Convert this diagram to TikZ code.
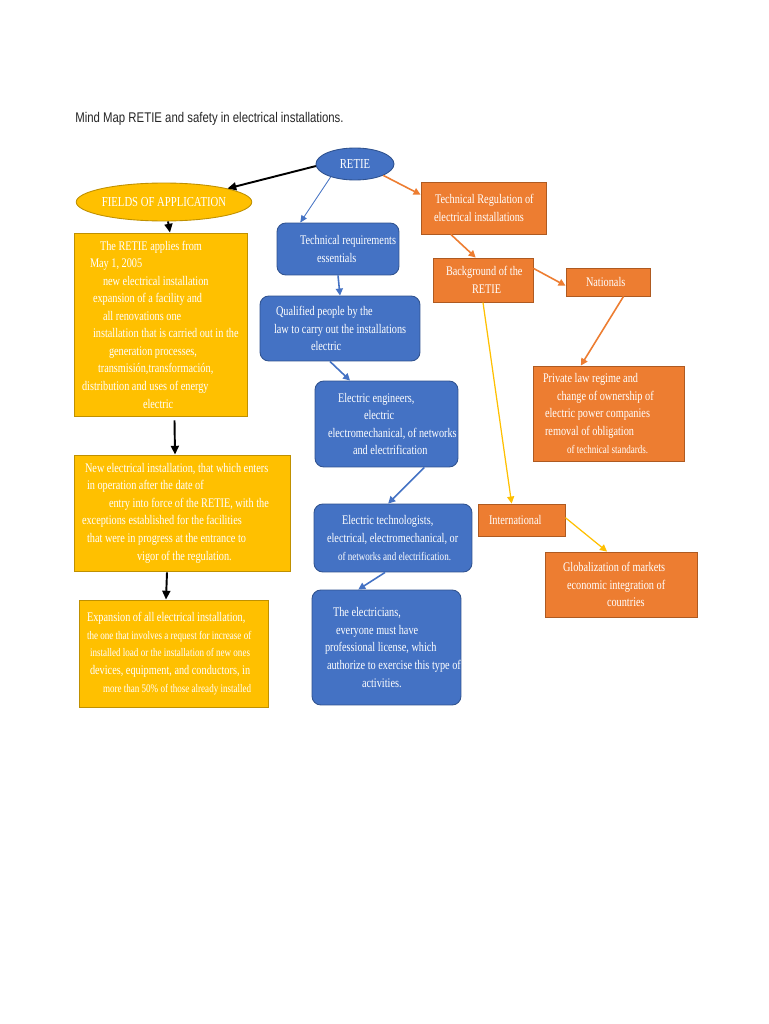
\documentclass[tikz,border=0pt]{standalone}
\usepackage{fontspec}
\usepackage{xcolor}
\usepackage{tikz}
\usetikzlibrary{shapes.geometric, arrows.meta, calc}
\newfontfamily\boxfont[FakeStretch=0.78]{Liberation Serif}
\newfontfamily\titlefont[FakeStretch=0.81]{Liberation Sans}
\definecolor{retieblue}{RGB}{68, 114, 196}
\definecolor{retiebluedark}{RGB}{47, 82, 143}
\definecolor{fieldgold}{RGB}{255, 192, 0}
\definecolor{fieldgolddark}{RGB}{191, 144, 0}
\definecolor{techorange}{RGB}{237, 125, 49}
\definecolor{techorangedark}{RGB}{174, 90, 33}
\setlength{\parindent}{0pt}
\newcommand{\bline}[2]{\hspace*{#1}\mbox{\spaceskip=0pt\xspaceskip=0pt #2}}

\begin{document}
\begin{tikzpicture}[
    x=0.02cm, y=-0.02cm,
    box/.style={
        rectangle,
        inner sep=0pt,
        align=left,
        text=white,
        line width=0.5pt,
        font=\boxfont\fontsize{7.5}{10}\selectfont
    },
    goldbox/.style={box, fill=fieldgold, draw=fieldgolddark},
    bluebox/.style={box, fill=retieblue, draw=retiebluedark, rounded corners=5pt},
    orangebox/.style={box, fill=techorange, draw=techorangedark},
    bubble/.style={
        ellipse,
        inner sep=0pt,
        align=center,
        text=white,
        line width=0.5pt,
        font=\boxfont\fontsize{7.8}{10}\selectfont
    },
    blackarrow/.style={-{Triangle[length=5pt, width=4.5pt]}, line width=1.1pt, black},
    bluearrow/.style={-{Triangle[length=4pt, width=4pt]}, line width=0.9pt, retieblue},
    thinbluearrow/.style={-{Triangle[length=4pt, width=3.5pt]}, line width=0.5pt, retieblue},
    orangearrow/.style={-{Triangle[length=4pt, width=4pt]}, line width=0.9pt, techorange},
    goldarrow/.style={-{Triangle[length=4pt, width=4pt]}, line width=0.7pt, fieldgold}
]
    \fill[white] (0,0) rectangle (768,1024);
    \useasboundingbox (0,0) rectangle (768,1024);

    % Title
    \node[anchor=west, inner sep=0pt, text=black!85, font=\titlefont\fontsize{8}{10}\selectfont] (title) at (75,119)
        {Mind Map RETIE and safety in electrical installations.};

    % Central ideas
    \node[bubble, fill=retieblue, draw=retiebluedark, minimum width=1.56cm, minimum height=0.64cm] (retie) at (355,164) {RETIE};
    \node[bubble, fill=fieldgold, draw=fieldgolddark, minimum width=3.5cm, minimum height=0.76cm] (fields) at (164,202) {FIELDS OF APPLICATION};

    % Fields of application
    \node[goldbox, text width=3.46cm, minimum height=3.66cm] (applies) at (160.5,324.5) {
        \bline{0.52cm}{The RETIE applies from}\\
        \bline{0.32cm}{May 1, 2005}\\
        \bline{0.58cm}{new electrical installation}\\
        \bline{0.38cm}{expansion of a facility and}\\
        \bline{0.58cm}{all renovations one}\\
        \bline{0.38cm}{installation that is carried out in the}\\
        \bline{0.70cm}{generation processes,}\\
        \bline{0.48cm}{transmisión,transformación,}\\
        \bline{0.16cm}{distribution and uses of energy}\\
        \bline{1.38cm}{electric}
    };

    \node[goldbox, text width=4.32cm, minimum height=2.32cm] (newinst) at (182,513) {
        \bline{0.22cm}{New electrical installation, that which enters}\\
        \bline{0.26cm}{in operation after the date of}\\
        \bline{0.70cm}{entry into force of the RETIE, with the}\\
        \bline{0.16cm}{exceptions established for the facilities}\\
        \bline{0.26cm}{that were in progress at the entrance to}\\
        \bline{1.26cm}{vigor of the regulation.}
    };

    \node[goldbox, text width=3.78cm, minimum height=2.14cm] (expansion) at (173.5,653.5) {
        \bline{0.16cm}{Expansion of all electrical installation,}\\
        \bline{0.16cm}{\fontsize{6.6}{10}\selectfont the one that involves a request for increase of}\\
        \bline{0.22cm}{\fontsize{6.6}{10}\selectfont installed load or the installation of new ones}\\
        \bline{0.22cm}{devices, equipment, and conductors, in}\\
        \bline{0.48cm}{\fontsize{6.6}{10}\selectfont more than 50\% of those already installed}
    };

    % Technical requirements
    \node[bluebox, text width=2.44cm, minimum height=1.04cm] (techreq) at (338,249) {
        \bline{0.46cm}{Technical requirements}\\
        \bline{0.80cm}{essentials}
    };

    \node[bluebox, text width=3.2cm, minimum height=1.3cm] (qualified) at (340,328.5) {
        \bline{0.32cm}{Qualified people by the}\\
        \bline{0.28cm}{law to carry out the installations}\\
        \bline{1.02cm}{electric}
    };

    \node[bluebox, text width=2.86cm, minimum height=1.72cm] (engineers) at (386.5,424) {
        \bline{0.46cm}{Electric engineers,}\\
        \bline{0.98cm}{electric}\\
        \bline{0.26cm}{electromechanical, of networks}\\
        \bline{0.76cm}{and electrification}
    };

    \node[bluebox, text width=3.16cm, minimum height=1.36cm] (technologists) at (393,538) {
        \bline{0.56cm}{Electric technologists,}\\
        \bline{0.26cm}{electrical, electromechanical, or}\\
        \bline{0.48cm}{\fontsize{6.6}{10}\selectfont of networks and electrification.}
    };

    \node[bluebox, text width=2.98cm, minimum height=2.3cm] (electricians) at (386.5,647.5) {
        \bline{0.42cm}{The electricians,}\\
        \bline{0.48cm}{everyone must have}\\
        \bline{0.26cm}{professional license, which}\\
        \bline{0.30cm}{authorize to exercise this type of}\\
        \bline{1.00cm}{activities.}
    };

    % Technical regulation
    \node[orangebox, text width=2.5cm, minimum height=1.04cm] (regulation) at (483.5,208) {
        \bline{0.28cm}{Technical Regulation of}\\
        \bline{0.26cm}{electrical installations}
    };

    \node[orangebox, text width=2.0cm, minimum height=0.88cm] (background) at (483,280) {
        \bline{0.26cm}{Background of the}\\
        \bline{0.78cm}{RETIE}
    };

    \node[orangebox, text width=1.68cm, minimum height=0.56cm] (nationals) at (608,282) {
        \bline{0.40cm}{Nationals}
    };

    \node[orangebox, text width=3.02cm, minimum height=1.9cm] (privatelaw) at (608.5,413.5) {
        \bline{0.20cm}{Private law regime and}\\
        \bline{0.48cm}{change of ownership of}\\
        \bline{0.24cm}{electric power companies}\\
        \bline{0.24cm}{removal of obligation}\\
        \bline{0.68cm}{\fontsize{6.6}{10}\selectfont of technical standards.}
    };

    \node[orangebox, text width=1.74cm, minimum height=0.64cm] (international) at (521.5,520) {
        \bline{0.22cm}{International}
    };

    \node[orangebox, text width=3.04cm, minimum height=1.3cm] (globalization) at (621,584.5) {
        \bline{0.36cm}{Globalization of markets}\\
        \bline{0.44cm}{economic integration of}\\
        \bline{1.24cm}{countries}
    };

    % Connectors
    \draw[blackarrow] (retie.183) -- (fields.12);
    \draw[blackarrow] ($(fields.south)+(4,0)$) -- ($(applies.north)+(9.5,0)$);
    \draw[blackarrow] ($(applies.south)+(14,4)$) -- ($(newinst.north)+(-7,0)$);
    \draw[blackarrow] ($(newinst.south)+(-15,1)$) -- ($(expansion.north)+(-7.5,0)$);

    \draw[thinbluearrow] (retie.208) -- (techreq.145);
    \draw[bluearrow] (techreq.south) -- (qualified.north);
    \draw[bluearrow] (qualified.253) -- (engineers.130);
    \draw[bluearrow] (engineers.311) -- (technologists.98);
    \draw[bluearrow] (technologists.257) -- (electricians.116);

    \draw[orangearrow] (retie.338) -- (regulation.168);
    \draw[orangearrow] (regulation.219) -- (background.108);
    \draw[orangearrow] (background.13) -- (nationals.185);
    \draw[orangearrow] (nationals.317) -- (privatelaw.120);

    \draw[goldarrow] (background.south) -- (international.121);
    \draw[goldarrow] (international.3) -- (globalization.113);
\end{tikzpicture}
\end{document}
